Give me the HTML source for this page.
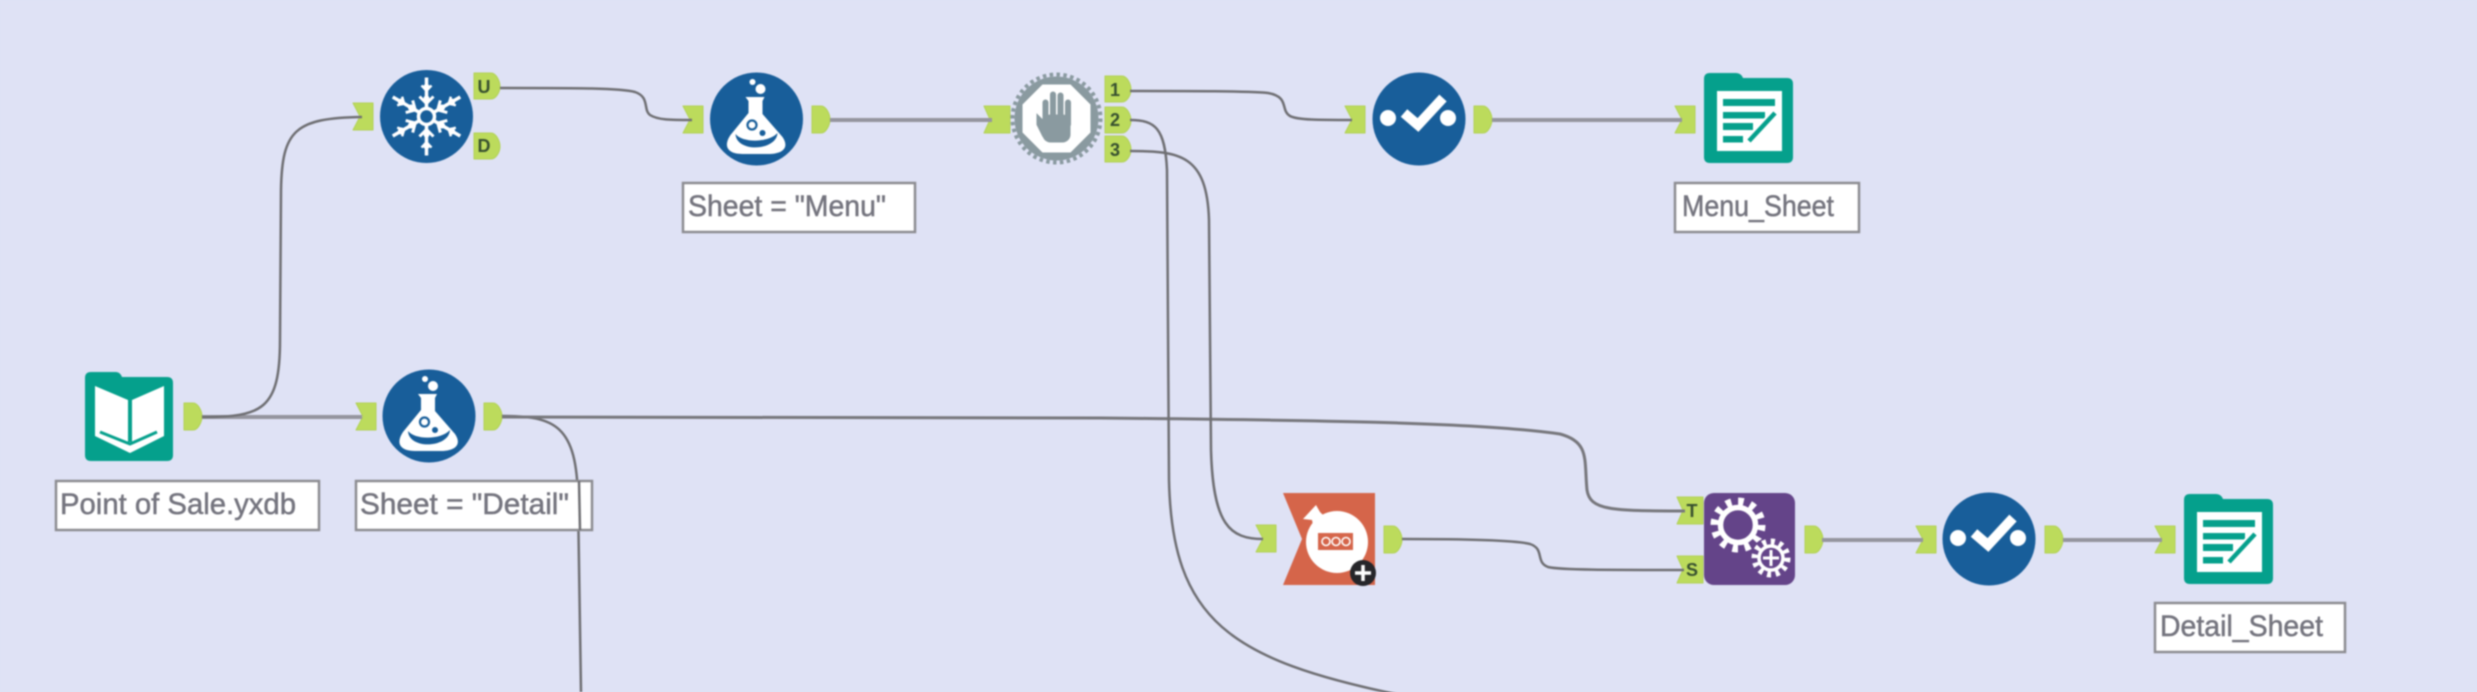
<!DOCTYPE html>
<html>
<head>
<meta charset="utf-8">
<style>
html,body{margin:0;padding:0;background:#dfe2f5;width:2477px;height:692px;overflow:hidden}
svg{display:block}
.lbl{font-family:"Liberation Sans",sans-serif;font-size:30px;fill:#74747e;stroke:#74747e;stroke-width:0.5}
.pt{font-family:"Liberation Sans",sans-serif;font-size:18px;font-weight:bold;fill:#37502f;text-anchor:middle}
.box{fill:#fff;stroke:#8d8d92;stroke-width:2.5}
.c{fill:none;stroke:#6f6f73;stroke-width:2.5}
.s{fill:none;stroke:#95959e;stroke-width:4}
.a{fill:#bcdb5c;stroke:#b2d255;stroke-width:1;stroke-linejoin:round}
</style>
</head>
<body>
<svg width="2477" height="692" viewBox="0 0 2477 692" xmlns="http://www.w3.org/2000/svg">
<defs>
<polygon id="inp" class="a" points="0,0 20,0 20,27 0,27 7,13.5"/>
<path id="out" class="a" d="M0,0H9C14,0 18,8 18,13.5C18,19 14,27 9,27H0Z"/>
<path id="po" class="a" d="M0,0H17C22,0 26,8 26,13.5C26,19 22,26 17,26H0Z"/>
<polygon id="pi" class="a" points="0,0 26,0 26,27 0,27 6,13.5"/>
<g id="flask">
<circle r="46.5" fill="#185e9a"/>
<path d="M-11,-22H8L6,-18V-5L26,18C34,30 24,35 12,35H-14C-28,35 -34,28 -26,16L-8,-6V-18Z" fill="#fff"/>
<path d="M-21,15C-14,24 12,24 21,14C20,32 -20,34 -21,15Z" fill="#185e9a"/>
<circle cx="-4.5" cy="6" r="4.5" fill="none" stroke="#185e9a" stroke-width="2.2"/>
<circle cx="6" cy="14" r="3" fill="#185e9a"/>
<circle cx="4" cy="-30" r="5" fill="#fff"/>
<circle cx="-4" cy="-37" r="3" fill="#fff"/>
</g>
<g id="check">
<circle r="46.5" fill="#185e9a"/>
<circle cx="-31" cy="-1" r="8" fill="#fff"/>
<circle cx="29" cy="-1" r="8" fill="#fff"/>
<polyline points="-15,-6 -1,6 24,-21" fill="none" stroke="#fff" stroke-width="10"/>
</g>
<g id="arm">
<line x1="0" y1="-8" x2="0" y2="-39" stroke="#fff" stroke-width="3.5"/>
<circle cy="-29" r="3.5" fill="#fff"/>
<circle cy="-18" r="3" fill="#fff"/>
<polyline points="-7,-20 0,-13 7,-20" fill="none" stroke="#fff" stroke-width="3"/>
<polyline points="-5,-31 0,-26 5,-31" fill="none" stroke="#fff" stroke-width="2.5"/>
</g>
<g id="doc">
<path d="M0,6Q0,0 6,0H32Q37,0 39,5H83Q89,5 89,11V84Q89,90 83,90H6Q0,90 0,84Z" fill="#05a08c"/>
<rect x="13" y="18" width="65" height="60" fill="#fff"/>
<rect x="19" y="26" width="52" height="7" fill="#05a08c"/>
<rect x="19" y="39" width="42" height="6.5" fill="#05a08c"/>
<rect x="19" y="50" width="30" height="7" fill="#05a08c"/>
<rect x="19" y="63" width="20" height="6.5" fill="#05a08c"/>
<line x1="71" y1="40" x2="45" y2="68" stroke="#fff" stroke-width="9"/>
<line x1="71" y1="40" x2="45" y2="68" stroke="#05a08c" stroke-width="4.5"/>
</g>
</defs>

<g style="filter:blur(0.8px)">
<rect width="2477" height="692" fill="#dfe2f5"/>

<!-- anchors -->
<use href="#out" x="184" y="403"/>
<use href="#inp" x="353" y="103"/>
<use href="#po" x="474" y="73"/>
<use href="#po" x="474" y="133"/>
<use href="#inp" x="356" y="403"/>
<use href="#out" x="484" y="403"/>
<use href="#inp" x="683" y="106"/>
<use href="#out" x="812" y="106"/>
<use href="#pi" x="984" y="106"/>
<use href="#po" x="1105" y="76"/>
<use href="#po" x="1105" y="107"/>
<use href="#po" x="1105" y="136"/>
<use href="#inp" x="1345" y="106"/>
<use href="#out" x="1474" y="106"/>
<use href="#inp" x="1675" y="106"/>
<use href="#inp" x="1256" y="525"/>
<use href="#out" x="1384" y="526"/>
<use href="#pi" x="1677" y="497"/>
<use href="#pi" x="1677" y="556"/>
<use href="#out" x="1805" y="526"/>
<use href="#inp" x="1916" y="526"/>
<use href="#out" x="2045" y="526"/>
<use href="#inp" x="2155" y="526"/>

<!-- connectors -->
<path class="s" d="M202,417H362"/>
<path class="s" d="M830,120H992"/>
<path class="s" d="M1492,120H1682"/>
<path class="s" d="M1822,540H1923"/>
<path class="s" d="M2063,540H2162"/>
<path class="c" d="M202,417C262,417 280,410 280,340L281,190C282,130 295,118 362,117"/>
<path class="c" d="M502,416C555,416 577,425 578,500L581,692"/>
<path class="s" style="stroke-width:3;stroke:#77777c" d="M502,417L1100,418C1300,420 1480,422 1560,434C1590,442 1584,460 1587,490C1590,510 1610,511 1685,511"/>
<path class="c" d="M500,88C580,88 620,88 635,92C650,97 643,110 650,115C658,120 670,120 692,120"/>
<path class="c" d="M1130,91C1190,91 1250,91 1268,93C1290,97 1280,110 1290,116C1297,120 1320,120 1352,120"/>
<path class="c" d="M1130,120C1155,120 1165,128 1167,170L1169,480C1172,620 1230,660 1400,695"/>
<path class="c" d="M1130,151C1180,151 1207,155 1209,220L1211,450C1213,525 1230,539 1263,539"/>
<path class="c" d="M1402,539C1460,539 1515,540 1530,544C1545,549 1535,562 1548,567C1560,570 1610,570 1684,570"/>

<!-- port letters -->
<text class="pt" x="484" y="93">U</text>
<text class="pt" x="484" y="152">D</text>
<text class="pt" x="1115" y="96">1</text>
<text class="pt" x="1115" y="126">2</text>
<text class="pt" x="1115" y="156">3</text>
<text class="pt" x="1692" y="517">T</text>
<text class="pt" x="1692" y="576">S</text>

<!-- book input -->
<path d="M85,378Q85,372 91,372H116Q120,372 122,377H167Q173,377 173,383V455Q173,461 167,461H91Q85,461 85,455Z" fill="#05a08c"/>
<polygon points="95,386 128,400 132,400 164,386 164,436 130,453 95,436" fill="#fff"/>
<line x1="130" y1="400" x2="130" y2="442" stroke="#05a08c" stroke-width="4"/>
<polyline points="100,432 130,444 157,432" fill="none" stroke="#05a08c" stroke-width="3"/>

<!-- snowflake -->
<g transform="translate(426.5,116.5)">
<circle r="46.5" fill="#185e9a"/>
<use href="#arm"/>
<use href="#arm" transform="rotate(60)"/>
<use href="#arm" transform="rotate(120)"/>
<use href="#arm" transform="rotate(180)"/>
<use href="#arm" transform="rotate(240)"/>
<use href="#arm" transform="rotate(300)"/>
<circle r="8" fill="none" stroke="#fff" stroke-width="3.5"/>
</g>

<!-- filters and checks -->
<use href="#flask" x="429" y="416"/>
<use href="#flask" x="756.5" y="119"/>
<use href="#check" x="1419" y="119"/>
<use href="#check" x="1989" y="539"/>

<!-- block until done -->
<g transform="translate(1056.5,118.5)">
<circle r="42" fill="#8a9aa0"/>
<circle r="44" fill="none" stroke="#8a9aa0" stroke-width="4" stroke-dasharray="3.5 3.4"/>
<polygon points="-14,-34 14,-34 34,-14 34,14 14,34 -14,34 -34,14 -34,-14" fill="#fff"/>
<g fill="#8a9aa0">
<rect x="-14" y="-4" width="28" height="28" rx="8"/>
<rect x="-14" y="-19" width="6" height="28" rx="3"/>
<rect x="-6.5" y="-27" width="6" height="32" rx="3"/>
<rect x="1" y="-26" width="6" height="32" rx="3"/>
<rect x="8.5" y="-19" width="6" height="28" rx="3"/>
<path d="M-14,2L-19,-3L-19,6L-13,18Z" stroke="#8a9aa0" stroke-width="2"/>
</g>
</g>

<!-- output docs -->
<use href="#doc" x="1704" y="73"/>
<use href="#doc" x="2184" y="494"/>

<!-- generate rows -->
<polygon points="1283,493 1375,493 1375,585 1283,585 1302,539" fill="#d5654a"/>
<circle cx="1337" cy="542" r="31" fill="#fff"/>
<polygon points="1303,519 1316,505 1320,512 1328,520 1314,530 1312,520" fill="#fff"/>
<rect x="1318" y="533" width="35" height="17" fill="#d5654a"/>
<circle cx="1326" cy="541.5" r="4" fill="none" stroke="#fff" stroke-width="1.6"/>
<circle cx="1336" cy="541.5" r="4" fill="none" stroke="#fff" stroke-width="1.6"/>
<circle cx="1346" cy="541.5" r="4" fill="none" stroke="#fff" stroke-width="1.6"/>
<circle cx="1363" cy="573" r="13" fill="#26262a"/>
<path d="M1355,573H1371M1363,565V581" stroke="#fff" stroke-width="3.5"/>

<!-- append gears -->
<rect x="1704" y="493" width="91" height="92" rx="10" fill="#644489"/>
<circle cx="1738" cy="525" r="17.5" fill="none" stroke="#fff" stroke-width="5.5"/>
<circle cx="1738" cy="525" r="23.5" fill="none" stroke="#fff" stroke-width="8" stroke-dasharray="5.5 6.8"/>
<circle cx="1771" cy="558" r="21" fill="#644489"/>
<circle cx="1771" cy="558" r="12" fill="none" stroke="#fff" stroke-width="3.5"/>
<circle cx="1771" cy="558" r="16.5" fill="none" stroke="#fff" stroke-width="6" stroke-dasharray="4 4.6"/>
<path d="M1763,558H1779M1771,550V566" stroke="#fff" stroke-width="3"/>

<!-- labels -->
<rect class="box" x="56" y="481" width="263" height="49"/>
<text class="lbl" x="60" y="514" textLength="236" lengthAdjust="spacingAndGlyphs">Point of Sale.yxdb</text>
<rect class="box" x="356" y="481" width="236" height="49"/>
<text class="lbl" x="360" y="514" textLength="209" lengthAdjust="spacingAndGlyphs">Sheet = "Detail"</text>
<path class="c" d="M579,481L580,530"/>
<rect class="box" x="683" y="183" width="232" height="49"/>
<text class="lbl" x="688" y="216" textLength="198" lengthAdjust="spacingAndGlyphs">Sheet = "Menu"</text>
<rect class="box" x="1675" y="183" width="184" height="49"/>
<text class="lbl" x="1682" y="216" textLength="152" lengthAdjust="spacingAndGlyphs">Menu_Sheet</text>
<rect class="box" x="2155" y="603" width="190" height="49"/>
<text class="lbl" x="2160" y="636" textLength="163" lengthAdjust="spacingAndGlyphs">Detail_Sheet</text>
</g>
</svg>
</body>
</html>
